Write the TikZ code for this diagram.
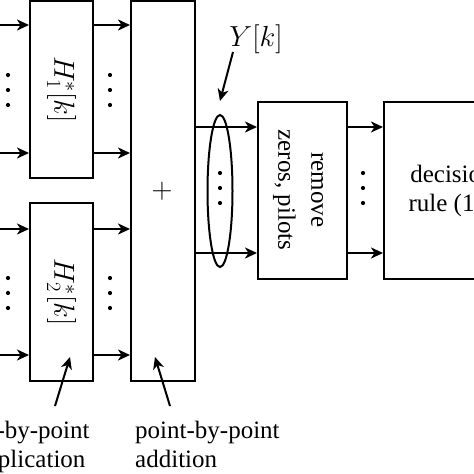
\documentclass[tikz,border=0pt]{standalone}
\usepackage{fix-cm}
\usepackage{fontspec}
\setmainfont{Liberation Serif}
\usetikzlibrary{arrows.meta,shapes.geometric}
\tikzset{sig/.style={-{Stealth[length=12pt,width=11pt,inset=3.5pt]},line width=2pt},
blk/.style={draw,line width=2pt,inner sep=0pt},
mth/.style={font=\fontsize{29}{33}\selectfont},
note/.style={inner sep=0pt,align=left,anchor=north west}}
\newcommand{\dotcol}[2]{\foreach \dy in {-15,0,15} {\fill (#1,#2+\dy) circle (2.1);}}

\begin{document}
\begin{tikzpicture}[x=1pt,y=-1pt,font=\fontsize{25}{29}\selectfont]
\useasboundingbox (0,0) rectangle (474,474);
\clip (0,0) rectangle (474,474);
\node[blk,minimum width=63pt,minimum height=177pt] (mul1) at (61.5,89.5) {};
\node[blk,minimum width=63pt,minimum height=178pt] (mul2) at (61.5,292) {};
\node[blk,minimum width=64pt,minimum height=380pt] (sum) at (163,191) {};
\node[blk,minimum width=89pt,minimum height=177pt] (rmz) at (302.5,190.5) {};
\node[blk,minimum width=136pt,minimum height=177pt] (dec) at (452,190.5) {};
\node[mth,rotate=-90] (mul1txt) at (mul1) {$H_1^*[k]$};
\node[mth,rotate=-90] (mul2txt) at (mul2) {$H_2^*[k]$};
\node[mth] (plus) at (162,191) {$+$};
\node[rotate=-90,align=center,font=\fontsize{25}{33}\selectfont] (rmztxt) at (298,190) {remove\\zeros, pilots};
\node[align=center] (dectxt) at (dec) {decision\\rule (12)};
\foreach \y/\b in {25/mul1,153/mul1,229/mul2,355/mul2} {
\coordinate (row) at (0,\y);
\draw[sig] (row) -- (row -| \b.west);
\draw[sig] (row -| \b.east) -- (row -| sum.west);}
\foreach \y in {127,253} {
\coordinate (row) at (0,\y);
\draw[sig] (row -| sum.east) -- (row -| rmz.west);
\draw[sig] (row -| rmz.east) -- (row -| dec.west);}
\node[blk,ellipse,minimum width=25pt,minimum height=152pt] (ygrp) at (220,191) {};
\dotcol{8}{90} \dotcol{110}{90} \dotcol{8}{293} \dotcol{110}{293}
\dotcol{220}{188} \dotcol{363}{188}
\node[mth] (ylbl) at (256,39) {$Y[k]$};
\coordinate (yfrom) at (233,52);
\coordinate (yto) at (220,101);
\draw[sig] (yfrom) -- (yto);
\node[note] (multxt) at (-55,421) {point-by-point\\multiplication};
\node[note] (addtxt) at (135,421) {point-by-point\\addition};
\coordinate (mulfrom) at (55,406);
\coordinate (multo) at (70,357);
\coordinate (addfrom) at (170,406);
\coordinate (addto) at (155,357);
\draw[sig] (mulfrom) -- (multo);
\draw[sig] (addfrom) -- (addto);
\end{tikzpicture}
\end{document}
